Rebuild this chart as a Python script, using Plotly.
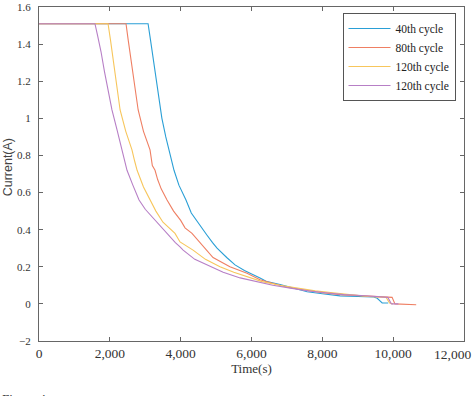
import plotly.graph_objects as go

series_names = ["40th cycle", "80th cycle", "120th cycle", "120th cycle"]
colors = ["#2a9fd6", "#ef7f63", "#f7c65c", "#b77fc6"]

x_40 = [0, 3080, 3150, 3250, 3350, 3470, 3580, 3670, 3740, 3812, 3950, 4150, 4300, 4547, 4745,
        4900, 5027, 5300, 5535, 5800, 5960, 6240, 6440, 6600, 6806, 7100, 7570, 8000, 8500,
        9000, 9430, 9550, 9690, 9860]
y_40 = [1.51, 1.51, 1.42, 1.28, 1.14, 1.00, 0.90, 0.83, 0.77, 0.72, 0.64, 0.56, 0.49, 0.42, 0.37,
        0.33, 0.30, 0.25, 0.21, 0.18, 0.167, 0.14, 0.12, 0.115, 0.105, 0.09, 0.065, 0.055, 0.043,
        0.04, 0.038, 0.03, 0.005, 0.005]

x_80 = [0, 2457, 2520, 2620, 2700, 2800, 2950, 3135, 3200, 3276, 3350, 3450, 3615, 3800, 4000,
        4123, 4320, 4500, 4745, 4914, 5390, 5700, 5874, 6240, 6600, 7000, 7500, 8000, 8500,
        9000, 9500, 9970, 10050, 10300, 10650]
y_80 = [1.51, 1.51, 1.42, 1.28, 1.17, 1.045, 0.93, 0.83, 0.745, 0.72, 0.67, 0.62, 0.56, 0.50, 0.45,
        0.41, 0.38, 0.34, 0.29, 0.25, 0.20, 0.175, 0.165, 0.13, 0.11, 0.09, 0.075, 0.06, 0.05,
        0.045, 0.04, 0.035, 0.0, -0.003, -0.005]

x_120a = [0, 1950, 2020, 2120, 2200, 2290, 2450, 2625, 2700, 2770, 2950, 3135, 3300, 3500, 3840,
          3982, 4100, 4350, 4700, 4914, 5110, 5500, 5875, 6300, 6800, 7300, 7800, 8300, 8800,
          9300, 9800, 9900, 10000]
y_120a = [1.51, 1.51, 1.42, 1.27, 1.16, 1.045, 0.93, 0.83, 0.77, 0.72, 0.63, 0.56, 0.50, 0.44, 0.38,
          0.334, 0.32, 0.29, 0.24, 0.22, 0.20, 0.17, 0.146, 0.12, 0.10, 0.085, 0.07, 0.06, 0.05,
          0.04, 0.035, 0.005, 0.0]

x_120b = [0, 1580, 1650, 1750, 1850, 1950, 2060, 2200, 2340, 2485, 2650, 2825, 3000, 3190, 3400,
          3615, 3850, 3982, 4070, 4400, 4830, 5200, 5680, 6100, 6600, 7100, 7600, 8100, 8600,
          9100, 9600, 9850, 9950, 10150]
y_120b = [1.51, 1.51, 1.45, 1.36, 1.25, 1.15, 1.045, 0.94, 0.83, 0.72, 0.64, 0.56, 0.51, 0.47, 0.42,
          0.38, 0.33, 0.307, 0.29, 0.24, 0.20, 0.17, 0.14, 0.12, 0.10, 0.085, 0.07, 0.06, 0.05,
          0.045, 0.04, 0.035, 0.0, 0.0]

x_ticks = [0, 2000, 4000, 6000, 8000, 10000, 12000]
x_tick_labels = ["0", "2,000", "4,000", "6,000", "8,000", "10,000", "12,000"]
y_ticks = [1.6, 1.4, 1.2, 1.0, 0.8, 0.6, 0.4, 0.2, 0.0, -0.2]
y_tick_labels = ["1.6", "1.4", "1.2", "1", "0.8", "0.6", "0.4", "0.2", "0", "\u22122"]

xs = [x_40, x_80, x_120a, x_120b]
ys = [y_40, y_80, y_120a, y_120b]

SERIF = "Liberation Serif, Times New Roman, serif"
TXT = "#333333"

fig = go.Figure()
for name, c, x, y in zip(series_names, colors, xs, ys):
    fig.add_trace(go.Scatter(x=x, y=y, mode="lines", name=name,
                             line=dict(color=c, width=1.1)))

axis_common = dict(showline=True, linecolor="#666666", linewidth=1, mirror="ticks",
                   ticks="inside", ticklen=4, tickcolor="#666666", showgrid=False,
                   zeroline=False, automargin=False)

# last x label is drawn right-aligned to the window edge, as in the reference
x_text_axis = x_tick_labels[:-1] + [""]

fig.update_layout(
    width=474, height=396,
    margin=dict(l=39, r=10, t=7, b=55, autoexpand=False),
    paper_bgcolor="white", plot_bgcolor="white",
    xaxis=dict(range=[0, 12000], tickvals=x_ticks, ticktext=x_text_axis,
               tickfont=dict(family=SERIF, size=13.5, color=TXT),
               title=dict(text="Time(s)", font=dict(family=SERIF, size=13, color=TXT),
                          standoff=2),
               **axis_common),
    yaxis=dict(range=[-0.2, 1.6], tickvals=y_ticks, ticktext=y_tick_labels,
               tickfont=dict(family=SERIF, size=11, color=TXT),
               ticklabelstandoff=5, **axis_common),
    legend=dict(x=0.98, y=0.982, xanchor="right", yanchor="top",
                bgcolor="white", bordercolor="#555555", borderwidth=1,
                font=dict(family=SERIF, size=11.5, color="#222222"),
                tracegroupgap=0, itemwidth=42),
    showlegend=True,
)

fig.add_annotation(text=x_tick_labels[-1], xref="paper", yref="paper",
                   x=(473 - 39) / 425, y=-(345 - 341) / 334, xanchor="right", yanchor="top",
                   showarrow=False, font=dict(family=SERIF, size=13.5, color=TXT))

fig.add_annotation(text="Current(A)", xref="paper", yref="paper",
                   x=(8 - 39) / 425, y=0.52, textangle=-90, showarrow=False,
                   xanchor="center", yanchor="middle",
                   font=dict(family="Liberation Sans, Arial, sans-serif", size=12.5, color="#444444"))

fig.add_annotation(text="Figure 4.", xref="paper", yref="paper",
                   x=-39 / 425, y=-(389 - 341) / 334, xanchor="left", yanchor="top",
                   showarrow=False,
                   font=dict(family=SERIF, size=13, color=TXT))

fig.write_html("out.html", config={"displayModeBar": False},
               post_script="document.body.style.margin='0';")
